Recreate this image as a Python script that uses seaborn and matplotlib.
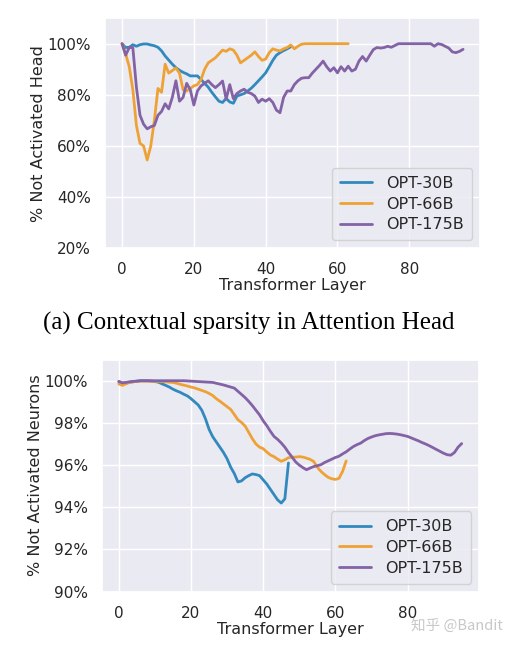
import numpy as np
import pandas as pd
import matplotlib
matplotlib.use("Agg")
import matplotlib.pyplot as plt
from matplotlib.ticker import PercentFormatter
import seaborn as sns

series_names = ["OPT-30B", "OPT-66B", "OPT-175B"]
series_colors = ["#3189bd", "#eea236", "#8462a6"]

# (a) Attention head sparsity (% not activated head), per layer
head_30b = [100, 98.5, 98.6, 99.6, 99.0, 99.6, 99.9, 99.9, 99.5, 99.2,
            98.6, 97.2, 95.2, 93.6, 92.0, 90.6, 89.6, 88.8, 88.2, 87.4,
            87.4, 87.4, 86.0, 84.5, 83.0, 81.0, 79.2, 77.5, 77.0, 78.6,
            77.2, 76.7, 79.5, 80.0, 80.5, 81.5, 82.6, 84.0, 85.5, 87.0,
            88.6, 91.0, 93.5, 95.5, 96.5, 97.3, 98.0, 98.8]
head_66b = [100, 96, 91, 82, 68, 61, 60, 54.5, 60, 70,
            82.5, 81, 92, 88.5, 89.5, 90.5, 88.5, 82, 81.5, 82.5,
            83.5, 84, 86, 90, 92.5, 93.5, 94.5, 96, 97.5, 97,
            98, 97.5, 95.5, 92.5, 93.5, 94.5, 95.5, 96.8, 95, 93.5,
            94, 96.5, 98, 97.5, 97.2, 98, 98.5, 99.5, 98, 99,
            99.8, 100, 100, 100, 100, 100, 100, 100, 100, 100,
            100, 100, 100, 100]
head_175b = [100, 95.5, 98.5, 98.5, 83, 72, 68.5, 66.7, 67.5, 68,
             72, 73.5, 76.5, 74.5, 79, 85.5, 77.5, 79, 84.5, 82,
             76, 81.5, 83.5, 84.5, 85.5, 84, 82.8, 84, 85.4, 78.3,
             84, 78.5, 80.5, 81.5, 82.2, 81, 80.5, 79.5, 77, 78.3,
             77.5, 78.5, 77, 74, 73, 79, 81.5, 81.5, 84, 85.5,
             86.5, 86.7, 86.7, 88.5, 90, 91.5, 93.2, 91, 89.3, 90.6,
             88.6, 91, 89.3, 91.2, 89.3, 90, 93.2, 95, 93.2, 95.5,
             97.7, 98.5, 98.3, 98.5, 99, 98.6, 99.3, 100, 100, 100,
             100, 100, 100, 100, 100, 100, 100, 99, 100, 99.7,
             99, 98.3, 96.8, 96.5, 97, 97.8]

# (b) MLP neuron sparsity (% not activated neurons), per layer
neur_30b = [99.95, 99.88, 99.9, 99.93, 99.95, 99.98, 100, 100, 100, 99.98,
            99.96, 99.93, 99.85, 99.78, 99.7, 99.6, 99.52, 99.45, 99.36, 99.28,
            99.15, 99.0, 98.85, 98.6, 98.2, 97.7, 97.35, 97.1, 96.85, 96.6,
            96.3, 95.9, 95.6, 95.2, 95.25, 95.4, 95.5, 95.58, 95.55, 95.5,
            95.3, 95.1, 94.85, 94.6, 94.35, 94.2, 94.4, 96.1]
neur_66b = [99.85, 99.78, 99.85, 99.92, 99.95, 99.97, 99.98, 99.98, 99.98, 99.98,
            99.97, 99.97, 99.96, 99.95, 99.93, 99.92, 99.88, 99.83, 99.79, 99.75,
            99.7, 99.66, 99.6, 99.54, 99.48, 99.4, 99.3, 99.15, 99.03, 98.9,
            98.77, 98.64, 98.4, 98.15, 98.02, 97.85, 97.55, 97.25, 97.0, 96.85,
            96.78, 96.62, 96.48, 96.4, 96.28, 96.18, 96.25, 96.35, 96.37, 96.38,
            96.4, 96.38, 96.33, 96.27, 96.17, 95.9, 95.7, 95.55, 95.42, 95.35,
            95.32, 95.37, 95.7, 96.2]
neur_175b = [99.97, 99.9, 99.92, 99.95, 99.97, 99.98, 100, 100, 100, 100,
             100, 100, 100, 100, 100, 100, 100, 100, 100, 99.99,
             99.98, 99.97, 99.96, 99.95, 99.94, 99.93, 99.92, 99.88, 99.84, 99.8,
             99.75, 99.7, 99.65, 99.5, 99.35, 99.2, 99.02, 98.82, 98.6, 98.38,
             98.1, 97.87, 97.6, 97.36, 97.22, 97.05, 96.85, 96.6, 96.38, 96.15,
             96.0, 95.88, 95.78, 95.86, 95.93, 95.97, 96.02, 96.12, 96.2, 96.28,
             96.36, 96.42, 96.53, 96.63, 96.76, 96.88, 96.97, 97.04, 97.16, 97.26,
             97.33, 97.39, 97.43, 97.46, 97.49, 97.5, 97.49, 97.47, 97.44, 97.4,
             97.36, 97.29, 97.22, 97.15, 97.07, 97.0, 96.92, 96.83, 96.74, 96.65,
             96.56, 96.49, 96.47, 96.6, 96.85, 97.02]

head_ticks = [20, 40, 60, 80, 100]
neur_ticks = [90, 92, 94, 96, 98, 100]
x_ticks = [0, 20, 40, 60, 80]
x_label = "Transformer Layer"
head_ylabel = "% Not Activated Head"
neur_ylabel = "% Not Activated Neurons"
caption_a = "(a) Contextual sparsity in Attention Head"
watermark = "知乎 @Bandit"


def long_form(values_list):
    frames = []
    for name, vals in zip(series_names, values_list):
        frames.append(pd.DataFrame({"layer": np.arange(len(vals)),
                                    "value": vals, "model": name}))
    return pd.concat(frames, ignore_index=True)


sns.set_theme(style="darkgrid")
plt.rcParams["font.family"] = ["DejaVu Sans", "Noto Sans CJK SC"]
plt.rcParams["font.size"] = 11

fig = plt.figure(figsize=(5.16, 6.48), dpi=100)
ax1 = fig.add_axes([0.2035, 0.617, 0.727, 0.355])
ax2 = fig.add_axes([0.197, 0.087, 0.731, 0.358])

palette = dict(zip(series_names, series_colors))

for ax, data, ticks, ylim, ylabel in [
        (ax1, [head_30b, head_66b, head_175b], head_ticks, (20, 110), head_ylabel),
        (ax2, [neur_30b, neur_66b, neur_175b], neur_ticks, (90, 101), neur_ylabel)]:
    df = long_form(data)
    sns.lineplot(data=df, x="layer", y="value", hue="model", palette=palette,
                 linewidth=2, ax=ax)
    ax.set_xlim(-4.75, 99.75)
    ax.set_ylim(*ylim)
    ax.set_yticks(ticks)
    ax.yaxis.set_major_formatter(PercentFormatter(xmax=100, decimals=0))
    ax.set_xticks(x_ticks)
    ax.tick_params(labelsize=11, pad=4)
    ax.set_xlabel(x_label, fontsize=11.5, labelpad=1)
    ax.set_ylabel(ylabel, fontsize=11.5, labelpad=1)
    ax.legend(loc="lower right", fontsize=11.5, title=None,
              handlelength=2.0, handletextpad=0.9, borderpad=0.5,
              labelspacing=0.35)

fig.text(0.482, 0.501, caption_a, ha="center", va="center",
         fontsize=18, family="Liberation Serif", color="black")
fig.text(0.885, 0.035, watermark, ha="center", va="center", fontsize=10.5,
         family=["Noto Sans CJK SC", "DejaVu Sans"], color="#c8c8c8")

fig.savefig("out.png", dpi=100)
